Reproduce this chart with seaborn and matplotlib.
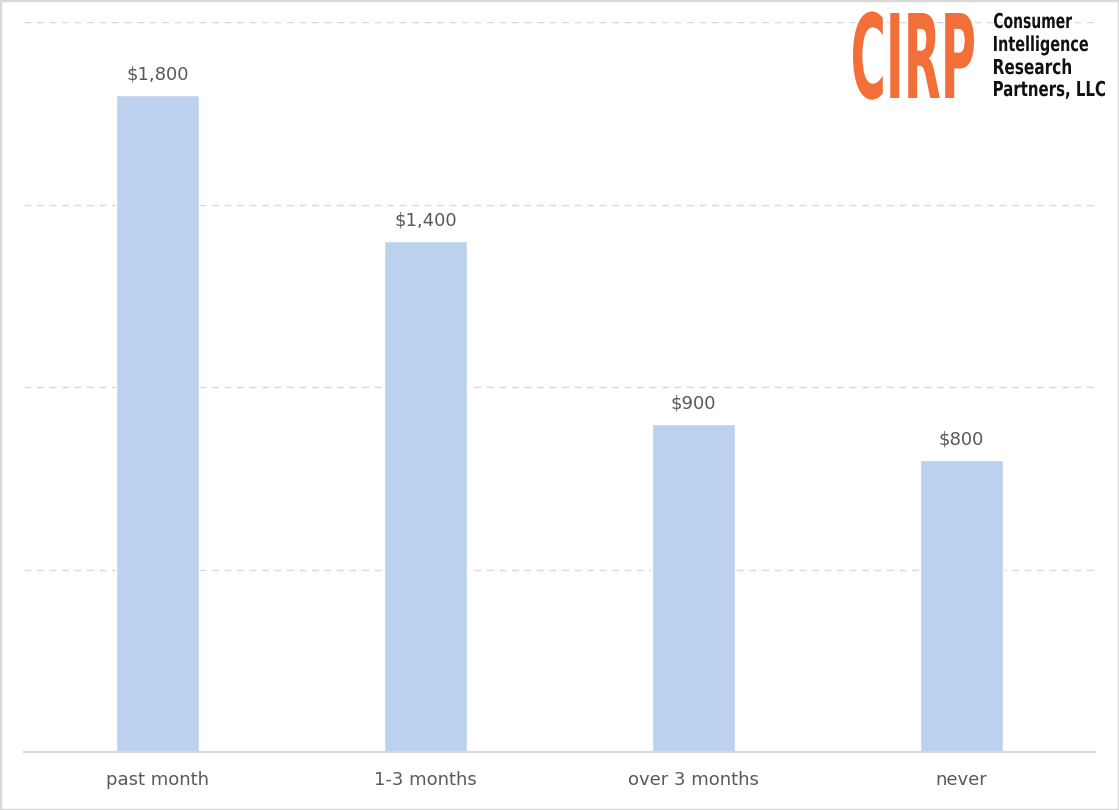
import numpy as np
import pandas as pd
import matplotlib.pyplot as plt
import seaborn as sns
from matplotlib.textpath import TextPath
from matplotlib.font_manager import FontProperties
from matplotlib.patches import PathPatch, Rectangle
from matplotlib.transforms import Affine2D

categories = ['past month', '1-3 months', 'over 3 months', 'never']
values = [1800, 1400, 900, 800]
logo_lines = ['Consumer', 'Intelligence', 'Research', 'Partners, LLC']

sns.set_style('white')
plt.rcParams['font.family'] = ['DejaVu Sans']

df = pd.DataFrame({'when': categories, 'spend': values})

fig = plt.figure(figsize=(11.19, 8.10), dpi=100)
ax = fig.add_axes([24 / 1119, 58 / 810, (1095 - 24) / 1119, (788 - 58) / 810])

sns.barplot(data=df, x='when', y='spend', color='#bcd1ee', width=0.31,
            saturation=1, ax=ax)
ax.bar_label(ax.containers[0], labels=[f'${v:,}' for v in values],
             padding=8, fontsize=13, color='#595959')

ax.set_ylim(0, 2000)
ax.set_xlim(-0.5, 3.5)
ax.set_yticks([500, 1000, 1500, 2000])
ax.yaxis.grid(True, color='#d9d9d9', linestyle=(0, (5, 4)), linewidth=1)
ax.set_axisbelow(True)
ax.set_yticklabels([])
ax.tick_params(axis='y', length=0)
ax.tick_params(axis='x', length=0, labelsize=13, labelcolor='#595959', pad=14)
ax.set_xlabel('')
ax.set_ylabel('')
for s in ['top', 'left', 'right']:
    ax.spines[s].set_visible(False)
ax.spines['bottom'].set_color('#d9d9d9')
ax.spines['bottom'].set_linewidth(1.5)

# logo: text as paths, squeezed sideways to look condensed
bold = FontProperties(family='DejaVu Sans', weight='bold')
cap_h = TextPath((0, 0), 'H', size=100, prop=bold).get_extents().height


def logo_text(s, x0, x1, baseline, cap, color):
    tp = TextPath((0, 0), s, size=100, prop=bold)
    ext = tp.get_extents()
    sx = (x1 - x0) / ext.width
    sy = cap / cap_h
    tr = (Affine2D().translate(-ext.x0, 0).scale(sx, sy)
          .translate(x0, 810 - baseline))
    fig.patches.append(PathPatch(tr.transform_path(tp), facecolor=color,
                                 edgecolor='none', transform=None,
                                 figure=fig))


logo_text('CIRP', 853, 974, 98, 85, '#f26f3a')
baselines = [28, 51, 74, 96]
right_ends = [1072, 1088, 1071, 1105]
for txt, base, right in zip(logo_lines, baselines, right_ends):
    logo_text(txt, 994, right, base, 15, '#111111')

fig.patches.append(Rectangle((0, 0), 1, 1, transform=fig.transFigure,
                             fill=False, edgecolor='#d9d9d9', linewidth=2.5,
                             figure=fig))

fig.savefig('out.png', dpi=100)
